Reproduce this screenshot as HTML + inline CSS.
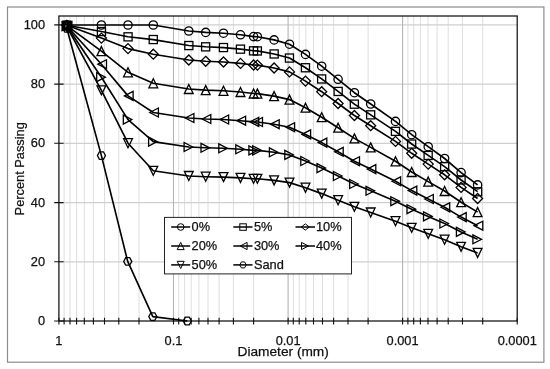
<!DOCTYPE html>
<html><head><meta charset="utf-8"><title>Grain size distribution</title>
<style>html,body{margin:0;padding:0;background:#fff}body{width:550px;height:369px;overflow:hidden}</style>
</head><body>
<svg width="550" height="369" viewBox="0 0 550 369" style="display:block">
<rect x="0" y="0" width="550" height="369" fill="#fff"/>
 <rect x="7.5" y="7.0" width="536.4" height="355.2" fill="#fff" stroke="#8c8c8c" stroke-width="1.2"/>
<path d="M139.0 16.0V321.0M118.8 16.0V321.0M104.5 16.0V321.0M93.4 16.0V321.0M84.3 16.0V321.0M76.6 16.0V321.0M70.0 16.0V321.0M64.1 16.0V321.0M253.6 16.0V321.0M233.4 16.0V321.0M219.1 16.0V321.0M208.0 16.0V321.0M198.9 16.0V321.0M191.2 16.0V321.0M184.6 16.0V321.0M178.7 16.0V321.0M368.1 16.0V321.0M348.0 16.0V321.0M333.6 16.0V321.0M322.5 16.0V321.0M313.5 16.0V321.0M305.8 16.0V321.0M299.2 16.0V321.0M293.3 16.0V321.0M482.7 16.0V321.0M462.5 16.0V321.0M448.2 16.0V321.0M437.1 16.0V321.0M428.0 16.0V321.0M420.4 16.0V321.0M413.7 16.0V321.0M407.9 16.0V321.0" stroke="#dedede" stroke-width="1" fill="none"/>
<path d="M58.9 261.8H517.2M58.9 202.6H517.2M58.9 143.3H517.2M58.9 84.1H517.2M58.9 24.9H517.2" stroke="#cfcfcf" stroke-width="1.3" fill="none"/>
<path d="M173.5 16.0V321.0M288.1 16.0V321.0M402.6 16.0V321.0" stroke="#b4b4b4" stroke-width="1.1" fill="none"/>
<rect x="58.9" y="16.0" width="458.3" height="305.0" fill="none" stroke="#111" stroke-width="1.25"/>
<path d="M54.2 321.0H63.6M54.2 261.8H63.6M54.2 202.6H63.6M54.2 143.3H63.6M54.2 84.1H63.6M54.2 24.9H63.6M58.9 317.7V324.6M139.0 317.7V324.6M118.8 317.7V324.6M104.5 317.7V324.6M93.4 317.7V324.6M84.3 317.7V324.6M76.6 317.7V324.6M70.0 317.7V324.6M64.1 317.7V324.6M173.5 317.7V324.6M253.6 317.7V324.6M233.4 317.7V324.6M219.1 317.7V324.6M208.0 317.7V324.6M198.9 317.7V324.6M191.2 317.7V324.6M184.6 317.7V324.6M178.7 317.7V324.6M288.1 317.7V324.6M368.1 317.7V324.6M348.0 317.7V324.6M333.6 317.7V324.6M322.5 317.7V324.6M313.5 317.7V324.6M305.8 317.7V324.6M299.2 317.7V324.6M293.3 317.7V324.6M402.6 317.7V324.6M482.7 317.7V324.6M462.5 317.7V324.6M448.2 317.7V324.6M437.1 317.7V324.6M428.0 317.7V324.6M420.4 317.7V324.6M413.7 317.7V324.6M407.9 317.7V324.6M517.2 317.7V324.6" stroke="#111" stroke-width="1.1" fill="none"/>
<g fill="none" stroke="#000" stroke-linejoin="round">
<polyline stroke-width="1.65" points="66.8,25.0 101.4,25.0 128.0,25.0 153.3,25.0 188.8,31.0 205.7,32.4 223.5,33.2 240.5,34.8 253.6,36.6 257.4,36.7 274.1,39.9 289.5,44.2 305.5,54.4 321.7,66.2 338.1,79.3 354.4,92.7 370.7,104.0 395.5,121.4 411.7,134.7 428.2,146.7 444.6,158.5 461.1,172.6 477.6,184.9"/>
<polyline stroke-width="1.65" points="66.8,25.2 101.4,31.5 128.0,36.8 153.3,39.6 188.8,45.5 205.7,46.8 223.5,47.6 240.5,49.1 253.6,50.8 257.4,50.9 274.1,54.0 289.5,58.0 305.5,67.7 321.7,78.9 338.1,91.4 354.4,104.1 370.7,114.9 395.5,131.4 411.7,144.0 428.2,155.4 444.6,166.6 461.1,180.0 477.6,191.7"/>
<polyline stroke-width="1.65" points="66.8,25.3 101.4,38.1 128.0,48.6 153.3,54.2 188.8,60.0 205.7,61.3 223.5,62.0 240.5,63.4 253.6,65.0 257.4,65.1 274.1,68.0 289.5,71.9 305.5,81.1 321.7,91.7 338.1,103.5 354.4,115.5 370.7,125.7 395.5,141.4 411.7,153.3 428.2,164.1 444.6,174.8 461.1,187.4 477.6,198.5"/>
<polyline stroke-width="1.65" points="66.8,25.7 101.4,51.1 128.0,72.3 153.3,83.3 188.8,89.0 205.7,90.1 223.5,90.8 240.5,92.0 253.6,93.5 257.4,93.6 274.1,96.1 289.5,99.6 305.5,107.7 321.7,117.2 338.1,127.7 354.4,138.4 370.7,147.4 395.5,161.3 411.7,172.0 428.2,181.6 444.6,191.0 461.1,202.2 477.6,212.1"/>
<polyline stroke-width="1.65" points="66.8,26.0 101.4,64.2 128.0,95.9 153.3,112.5 188.8,118.0 205.7,119.0 223.5,119.5 240.5,120.7 253.6,121.9 257.4,122.0 274.1,124.2 289.5,127.2 305.5,134.4 321.7,142.6 338.1,151.8 354.4,161.2 370.7,169.1 395.5,181.3 411.7,190.6 428.2,199.0 444.6,207.2 461.1,217.1 477.6,225.7"/>
<polyline stroke-width="1.65" points="66.8,26.3 101.4,77.2 128.0,119.6 153.3,141.6 188.8,147.0 205.7,147.8 223.5,148.3 240.5,149.3 253.6,150.4 257.4,150.4 274.1,152.3 289.5,154.9 305.5,161.0 321.7,168.1 338.1,176.0 354.4,184.0 370.7,190.8 395.5,201.2 411.7,209.2 428.2,216.4 444.6,223.5 461.1,231.9 477.6,239.3"/>
<polyline stroke-width="1.65" points="66.8,26.7 101.4,90.3 128.0,143.2 153.3,170.8 188.8,176.0 205.7,176.7 223.5,177.1 240.5,177.9 253.6,178.8 257.4,178.8 274.1,180.4 289.5,182.6 305.5,187.7 321.7,193.6 338.1,200.2 354.4,206.8 370.7,212.5 395.5,221.2 411.7,227.8 428.2,233.8 444.6,239.8 461.1,246.8 477.6,252.9"/>
<polyline stroke-width="1.65" points="66.8,28.3 101.4,155.6 127.7,261.4 152.8,316.6 187.3,321.0"/>
<g stroke-width="1.3" stroke-linejoin="miter"><circle cx="66.8" cy="25.0" r="4.15"/><circle cx="101.4" cy="25.0" r="4.15"/><circle cx="128.0" cy="25.0" r="4.15"/><circle cx="153.3" cy="25.0" r="4.15"/><circle cx="188.8" cy="31.0" r="4.15"/><circle cx="205.7" cy="32.4" r="4.15"/><circle cx="223.5" cy="33.2" r="4.15"/><circle cx="240.5" cy="34.8" r="4.15"/><circle cx="253.6" cy="36.6" r="4.15"/><circle cx="257.4" cy="36.7" r="4.15"/><circle cx="274.1" cy="39.9" r="4.15"/><circle cx="289.5" cy="44.2" r="4.15"/><circle cx="305.5" cy="54.4" r="4.15"/><circle cx="321.7" cy="66.2" r="4.15"/><circle cx="338.1" cy="79.3" r="4.15"/><circle cx="354.4" cy="92.7" r="4.15"/><circle cx="370.7" cy="104.0" r="4.15"/><circle cx="395.5" cy="121.4" r="4.15"/><circle cx="411.7" cy="134.7" r="4.15"/><circle cx="428.2" cy="146.7" r="4.15"/><circle cx="444.6" cy="158.5" r="4.15"/><circle cx="461.1" cy="172.6" r="4.15"/><circle cx="477.6" cy="184.9" r="4.15"/></g>
<g stroke-width="1.3" stroke-linejoin="miter"><rect x="62.8" y="21.1" width="8.1" height="8.1"/><rect x="97.4" y="27.5" width="8.1" height="8.1"/><rect x="124.0" y="32.8" width="8.1" height="8.1"/><rect x="149.2" y="35.5" width="8.1" height="8.1"/><rect x="184.8" y="41.5" width="8.1" height="8.1"/><rect x="201.6" y="42.8" width="8.1" height="8.1"/><rect x="219.4" y="43.5" width="8.1" height="8.1"/><rect x="236.4" y="45.1" width="8.1" height="8.1"/><rect x="249.5" y="46.8" width="8.1" height="8.1"/><rect x="253.3" y="46.9" width="8.1" height="8.1"/><rect x="270.1" y="49.9" width="8.1" height="8.1"/><rect x="285.4" y="54.0" width="8.1" height="8.1"/><rect x="301.4" y="63.7" width="8.1" height="8.1"/><rect x="317.6" y="74.9" width="8.1" height="8.1"/><rect x="334.1" y="87.4" width="8.1" height="8.1"/><rect x="350.3" y="100.1" width="8.1" height="8.1"/><rect x="366.6" y="110.8" width="8.1" height="8.1"/><rect x="391.4" y="127.3" width="8.1" height="8.1"/><rect x="407.6" y="140.0" width="8.1" height="8.1"/><rect x="424.1" y="151.4" width="8.1" height="8.1"/><rect x="440.6" y="162.6" width="8.1" height="8.1"/><rect x="457.0" y="175.9" width="8.1" height="8.1"/><rect x="473.6" y="187.7" width="8.1" height="8.1"/></g>
<g stroke-width="1.3" stroke-linejoin="miter"><path d="M66.8 20.3L71.8 25.3L66.8 30.3L61.8 25.3Z"/><path d="M101.4 33.1L106.4 38.1L101.4 43.1L96.4 38.1Z"/><path d="M128.0 43.6L133.0 48.6L128.0 53.6L123.0 48.6Z"/><path d="M153.3 49.2L158.3 54.2L153.3 59.2L148.3 54.2Z"/><path d="M188.8 55.0L193.8 60.0L188.8 65.0L183.8 60.0Z"/><path d="M205.7 56.3L210.7 61.3L205.7 66.3L200.7 61.3Z"/><path d="M223.5 57.0L228.5 62.0L223.5 67.0L218.5 62.0Z"/><path d="M240.5 58.4L245.5 63.4L240.5 68.4L235.5 63.4Z"/><path d="M253.6 60.0L258.6 65.0L253.6 70.0L248.6 65.0Z"/><path d="M257.4 60.1L262.4 65.1L257.4 70.1L252.4 65.1Z"/><path d="M274.1 63.0L279.1 68.0L274.1 73.0L269.1 68.0Z"/><path d="M289.5 66.9L294.5 71.9L289.5 76.9L284.5 71.9Z"/><path d="M305.5 76.1L310.5 81.1L305.5 86.1L300.5 81.1Z"/><path d="M321.7 86.7L326.7 91.7L321.7 96.7L316.7 91.7Z"/><path d="M338.1 98.5L343.1 103.5L338.1 108.5L333.1 103.5Z"/><path d="M354.4 110.5L359.4 115.5L354.4 120.5L349.4 115.5Z"/><path d="M370.7 120.7L375.7 125.7L370.7 130.7L365.7 125.7Z"/><path d="M395.5 136.4L400.5 141.4L395.5 146.4L390.5 141.4Z"/><path d="M411.7 148.3L416.7 153.3L411.7 158.3L406.7 153.3Z"/><path d="M428.2 159.1L433.2 164.1L428.2 169.1L423.2 164.1Z"/><path d="M444.6 169.8L449.6 174.8L444.6 179.8L439.6 174.8Z"/><path d="M461.1 182.4L466.1 187.4L461.1 192.4L456.1 187.4Z"/><path d="M477.6 193.5L482.6 198.5L477.6 203.5L472.6 198.5Z"/></g>
<g stroke-width="1.3" stroke-linejoin="miter"><path d="M66.8 21.2L71.2 30.2L62.4 30.2Z"/><path d="M101.4 46.6L105.8 55.6L97.0 55.6Z"/><path d="M128.0 67.8L132.4 76.8L123.6 76.8Z"/><path d="M153.3 78.8L157.7 87.8L148.9 87.8Z"/><path d="M188.8 84.5L193.2 93.5L184.4 93.5Z"/><path d="M205.7 85.6L210.1 94.6L201.3 94.6Z"/><path d="M223.5 86.3L227.9 95.3L219.1 95.3Z"/><path d="M240.5 87.5L244.9 96.5L236.1 96.5Z"/><path d="M253.6 89.0L258.0 98.0L249.2 98.0Z"/><path d="M257.4 89.1L261.8 98.1L253.0 98.1Z"/><path d="M274.1 91.6L278.5 100.6L269.7 100.6Z"/><path d="M289.5 95.1L293.9 104.1L285.1 104.1Z"/><path d="M305.5 103.2L309.9 112.2L301.1 112.2Z"/><path d="M321.7 112.7L326.1 121.7L317.3 121.7Z"/><path d="M338.1 123.2L342.5 132.2L333.8 132.2Z"/><path d="M354.4 133.9L358.8 142.9L350.0 142.9Z"/><path d="M370.7 142.9L375.1 151.9L366.3 151.9Z"/><path d="M395.5 156.8L399.9 165.8L391.1 165.8Z"/><path d="M411.7 167.5L416.1 176.5L407.3 176.5Z"/><path d="M428.2 177.1L432.6 186.1L423.8 186.1Z"/><path d="M444.6 186.5L449.0 195.5L440.2 195.5Z"/><path d="M461.1 197.7L465.4 206.7L456.7 206.7Z"/><path d="M477.6 207.6L482.0 216.6L473.2 216.6Z"/></g>
<g stroke-width="1.3" stroke-linejoin="miter"><path d="M63.3 26.0L71.9 21.5L71.9 30.5Z"/><path d="M97.9 64.2L106.5 59.7L106.5 68.7Z"/><path d="M124.5 95.9L133.1 91.4L133.1 100.4Z"/><path d="M149.8 112.5L158.4 108.0L158.4 117.0Z"/><path d="M185.3 118.0L193.9 113.5L193.9 122.5Z"/><path d="M202.2 119.0L210.8 114.5L210.8 123.5Z"/><path d="M220.0 119.5L228.6 115.0L228.6 124.0Z"/><path d="M237.0 120.7L245.6 116.2L245.6 125.2Z"/><path d="M250.1 121.9L258.7 117.4L258.7 126.4Z"/><path d="M253.9 122.0L262.5 117.5L262.5 126.5Z"/><path d="M270.6 124.2L279.2 119.7L279.2 128.7Z"/><path d="M286.0 127.2L294.6 122.7L294.6 131.7Z"/><path d="M302.0 134.4L310.6 129.9L310.6 138.9Z"/><path d="M318.2 142.6L326.8 138.1L326.8 147.1Z"/><path d="M334.6 151.8L343.2 147.3L343.2 156.3Z"/><path d="M350.9 161.2L359.5 156.7L359.5 165.7Z"/><path d="M367.2 169.1L375.8 164.6L375.8 173.6Z"/><path d="M392.0 181.3L400.6 176.8L400.6 185.8Z"/><path d="M408.2 190.6L416.8 186.1L416.8 195.1Z"/><path d="M424.7 199.0L433.3 194.5L433.3 203.5Z"/><path d="M441.1 207.2L449.7 202.8L449.7 211.8Z"/><path d="M457.6 217.1L466.2 212.6L466.2 221.6Z"/><path d="M474.1 225.7L482.8 221.2L482.8 230.2Z"/></g>
<g stroke-width="1.3" stroke-linejoin="miter"><path d="M70.7 26.3L62.1 21.8L62.1 30.8Z"/><path d="M105.3 77.2L96.7 72.7L96.7 81.7Z"/><path d="M131.9 119.6L123.3 115.1L123.3 124.1Z"/><path d="M157.2 141.6L148.6 137.1L148.6 146.1Z"/><path d="M192.7 147.0L184.1 142.5L184.1 151.5Z"/><path d="M209.6 147.8L201.0 143.3L201.0 152.3Z"/><path d="M227.4 148.3L218.8 143.8L218.8 152.8Z"/><path d="M244.4 149.3L235.8 144.8L235.8 153.8Z"/><path d="M257.5 150.4L248.9 145.9L248.9 154.9Z"/><path d="M261.3 150.4L252.7 145.9L252.7 154.9Z"/><path d="M278.0 152.3L269.4 147.8L269.4 156.8Z"/><path d="M293.4 154.9L284.8 150.4L284.8 159.4Z"/><path d="M309.4 161.0L300.8 156.5L300.8 165.5Z"/><path d="M325.6 168.1L317.0 163.6L317.0 172.6Z"/><path d="M342.1 176.0L333.4 171.5L333.4 180.5Z"/><path d="M358.3 184.0L349.7 179.5L349.7 188.5Z"/><path d="M374.6 190.8L366.0 186.3L366.0 195.3Z"/><path d="M399.4 201.2L390.8 196.7L390.8 205.7Z"/><path d="M415.6 209.2L407.0 204.7L407.0 213.7Z"/><path d="M432.1 216.4L423.5 211.9L423.5 220.9Z"/><path d="M448.5 223.5L439.9 219.0L439.9 228.0Z"/><path d="M465.0 231.9L456.4 227.4L456.4 236.4Z"/><path d="M481.6 239.3L472.9 234.8L472.9 243.8Z"/></g>
<g stroke-width="1.3" stroke-linejoin="miter"><path d="M66.8 31.2L71.2 22.2L62.4 22.2Z"/><path d="M101.4 94.8L105.8 85.8L97.0 85.8Z"/><path d="M128.0 147.7L132.4 138.7L123.6 138.7Z"/><path d="M153.3 175.3L157.7 166.3L148.9 166.3Z"/><path d="M188.8 180.5L193.2 171.5L184.4 171.5Z"/><path d="M205.7 181.2L210.1 172.2L201.3 172.2Z"/><path d="M223.5 181.6L227.9 172.6L219.1 172.6Z"/><path d="M240.5 182.4L244.9 173.4L236.1 173.4Z"/><path d="M253.6 183.3L258.0 174.3L249.2 174.3Z"/><path d="M257.4 183.3L261.8 174.3L253.0 174.3Z"/><path d="M274.1 184.9L278.5 175.9L269.7 175.9Z"/><path d="M289.5 187.1L293.9 178.1L285.1 178.1Z"/><path d="M305.5 192.2L309.9 183.2L301.1 183.2Z"/><path d="M321.7 198.1L326.1 189.1L317.3 189.1Z"/><path d="M338.1 204.7L342.5 195.7L333.8 195.7Z"/><path d="M354.4 211.3L358.8 202.3L350.0 202.3Z"/><path d="M370.7 217.0L375.1 208.0L366.3 208.0Z"/><path d="M395.5 225.7L399.9 216.7L391.1 216.7Z"/><path d="M411.7 232.3L416.1 223.3L407.3 223.3Z"/><path d="M428.2 238.3L432.6 229.3L423.8 229.3Z"/><path d="M444.6 244.2L449.0 235.2L440.2 235.2Z"/><path d="M461.1 251.3L465.4 242.3L456.7 242.3Z"/><path d="M477.6 257.4L482.0 248.4L473.2 248.4Z"/></g>
<g stroke-width="1.3" stroke-linejoin="miter"><path d="M70.8 28.3L68.8 24.5L64.8 24.5L62.8 28.3L64.8 32.1L68.8 32.1Z"/><path d="M105.5 155.6L103.4 151.8L99.4 151.8L97.4 155.6L99.4 159.4L103.4 159.4Z"/><path d="M131.8 261.4L129.7 257.6L125.7 257.6L123.7 261.4L125.7 265.2L129.7 265.2Z"/><path d="M156.9 316.6L154.8 312.8L150.8 312.8L148.8 316.6L150.8 320.4L154.8 320.4Z"/><path d="M191.4 321.0L189.3 317.2L185.3 317.2L183.2 321.0L185.3 324.8L189.3 324.8Z"/></g>
</g>
<rect x="164.5" y="217.4" width="187" height="56.5" fill="#fff" stroke="#222" stroke-width="1"/>
<g fill="none" stroke="#000">
<path stroke-width="1.5" d="M171.2 227.0H190.2"/>
<g stroke-width="1.0"><circle cx="180.7" cy="227.0" r="3.32"/></g>
<path stroke-width="1.5" d="M233.3 227.0H252.5"/>
<g stroke-width="1.0"><rect x="239.8" y="223.8" width="6.5" height="6.5"/></g>
<path stroke-width="1.5" d="M295.5 227.0H315.0"/>
<g stroke-width="1.0"><path d="M305.3 223.9L309.3 227.0L305.3 230.1L301.3 227.0Z"/></g>
<path stroke-width="1.5" d="M171.2 246.0H190.2"/>
<g stroke-width="1.0"><path d="M180.7 242.4L184.2 249.6L177.2 249.6Z"/></g>
<path stroke-width="1.5" d="M233.3 246.0H252.5"/>
<g stroke-width="1.0"><path d="M240.2 246.0L247.1 242.4L247.1 249.6Z"/></g>
<path stroke-width="1.5" d="M295.5 246.0H315.0"/>
<g stroke-width="1.0"><path d="M308.4 246.0L301.5 242.4L301.5 249.6Z"/></g>
<path stroke-width="1.5" d="M171.2 264.9H190.2"/>
<g stroke-width="1.0"><path d="M180.7 268.5L184.2 261.3L177.2 261.3Z"/></g>
<path stroke-width="1.5" d="M233.3 264.9H252.5"/>
<g stroke-width="1.0"><path d="M246.2 264.9L244.6 261.9L241.4 261.9L239.8 264.9L241.4 267.9L244.6 267.9Z"/></g>
</g>
<g font-family="'Liberation Sans', Arial, sans-serif" fill="#111" stroke="#111" stroke-width="0.25" font-size="12.8">
<text x="191.6" y="231.2">0%</text>
<text x="253.9" y="231.2">5%</text>
<text x="316.0" y="231.2">10%</text>
<text x="191.6" y="250.2">20%</text>
<text x="253.9" y="250.2">30%</text>
<text x="316.0" y="250.2">40%</text>
<text x="191.6" y="269.1">50%</text>
<text x="253.9" y="269.1">Sand</text>
<text x="45.1" y="325.0" text-anchor="end">0</text>
<text x="45.1" y="265.8" text-anchor="end">20</text>
<text x="45.1" y="206.6" text-anchor="end">40</text>
<text x="45.1" y="147.3" text-anchor="end">60</text>
<text x="45.1" y="88.1" text-anchor="end">80</text>
<text x="45.1" y="28.9" text-anchor="end">100</text>
<text x="58.9" y="344.8" text-anchor="middle">1</text>
<text x="173.5" y="344.8" text-anchor="middle">0.1</text>
<text x="288.1" y="344.8" text-anchor="middle">0.01</text>
<text x="402.6" y="344.8" text-anchor="middle">0.001</text>
<text x="517.2" y="344.8" text-anchor="middle">0.0001</text>
<text x="283.2" y="355.7" text-anchor="middle" font-size="13.7">Diameter (mm)</text>
<text transform="translate(23.9 168.8) rotate(-90)" text-anchor="middle">Percent Passing</text>
</g>
</svg>
</body></html>
